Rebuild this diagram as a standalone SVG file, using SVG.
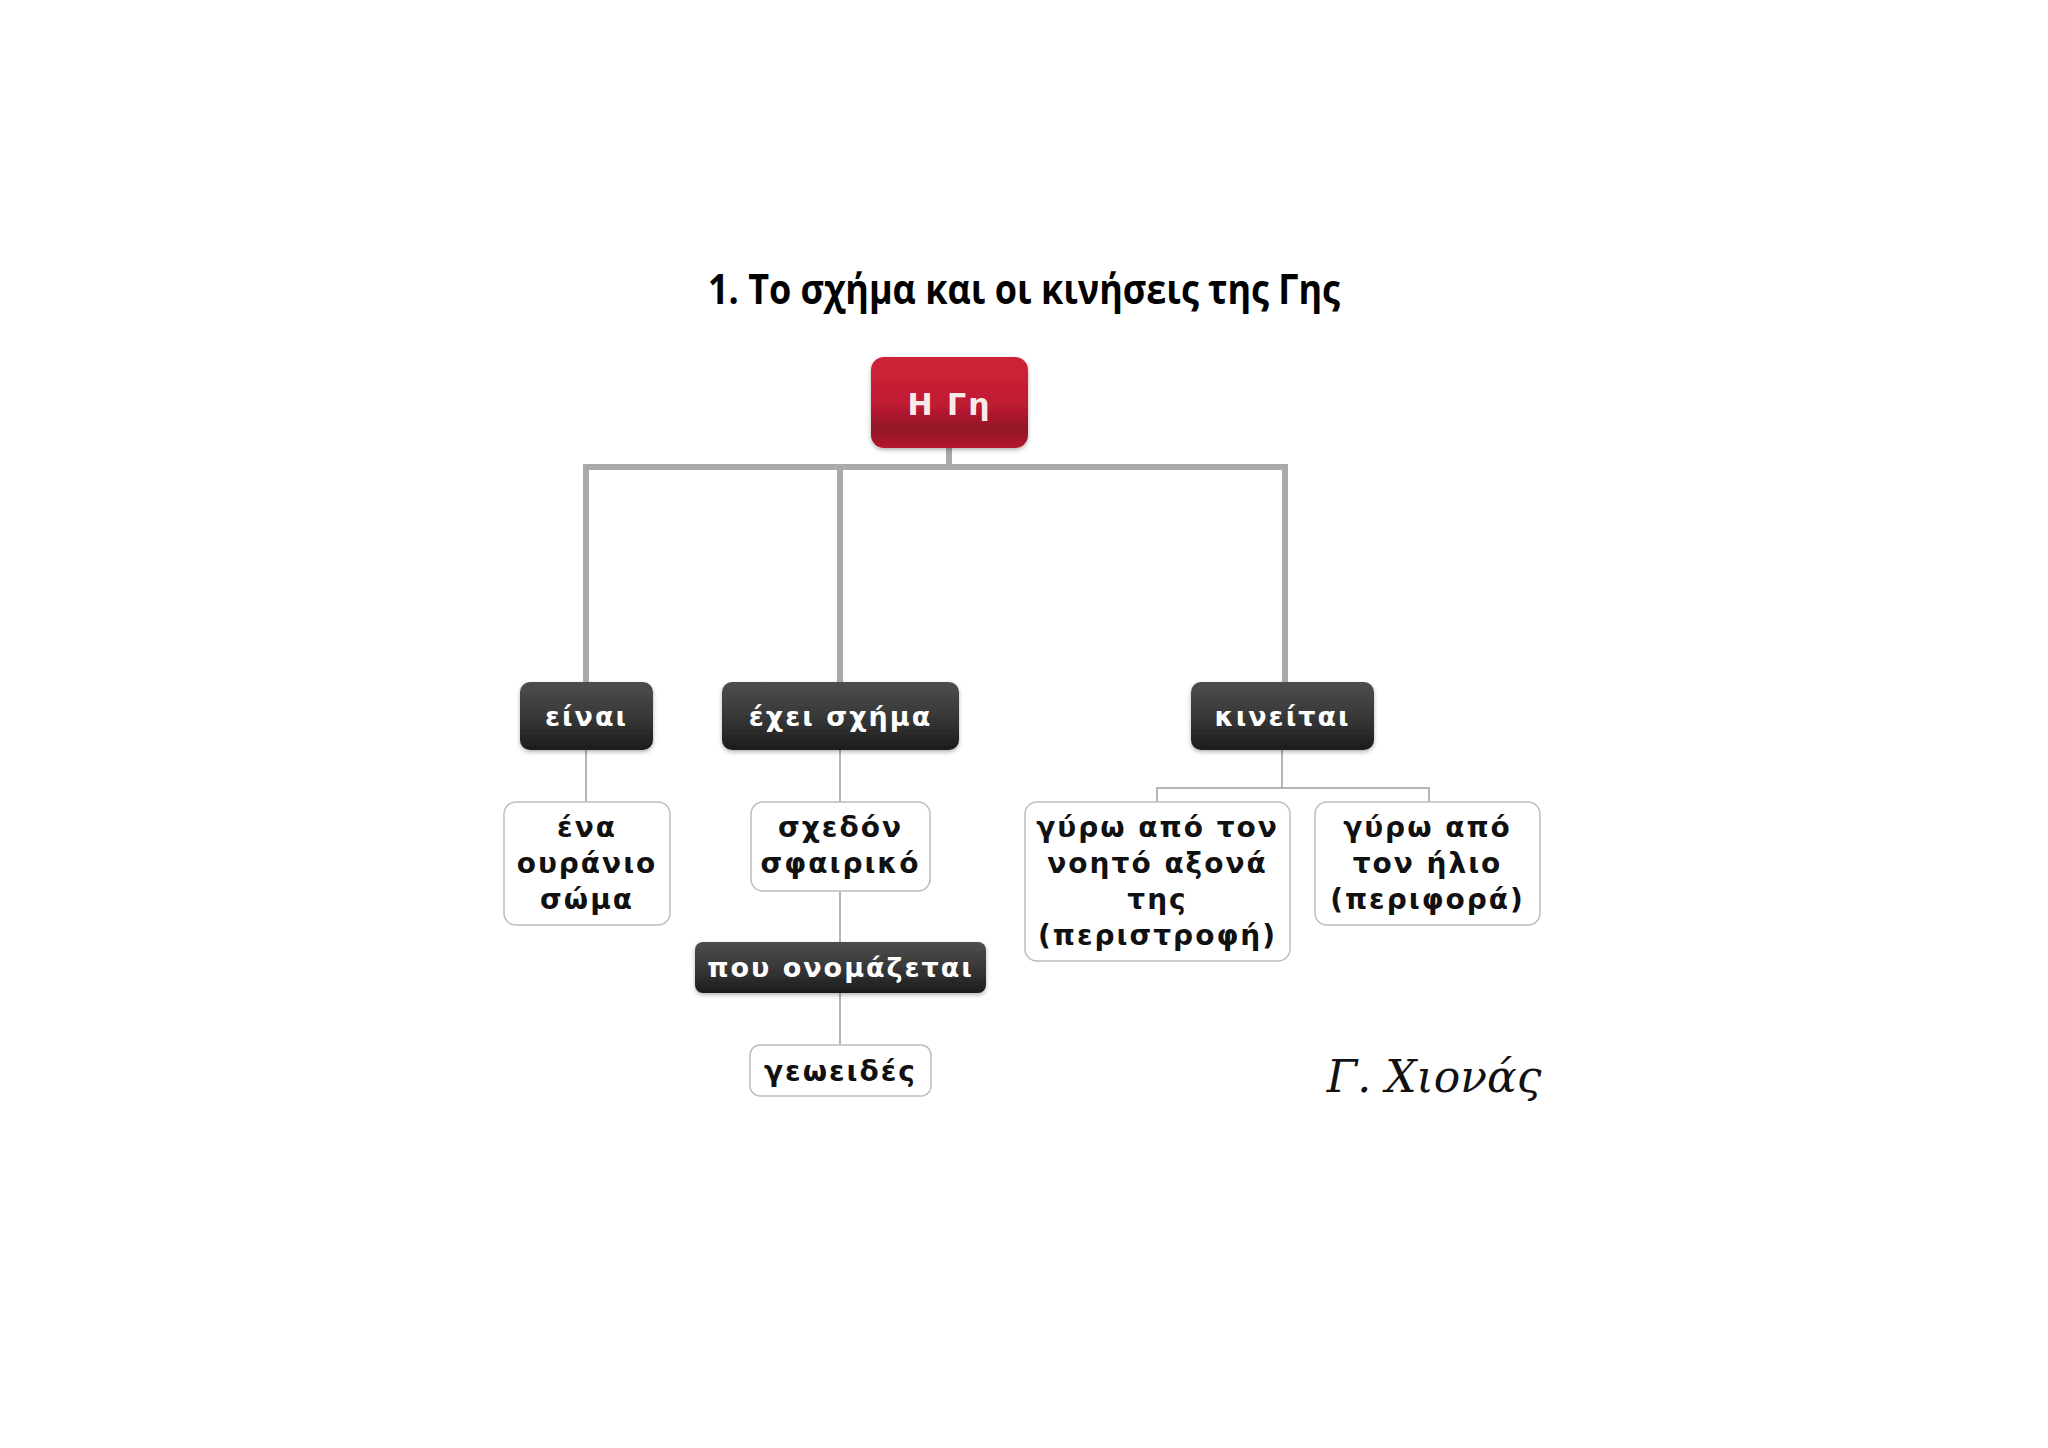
<svg xmlns="http://www.w3.org/2000/svg" width="2048" height="1448" viewBox="0 0 2048 1448">
<defs>
<linearGradient id="red" x1="0" y1="0" x2="0" y2="1">
<stop offset="0" stop-color="#d02438"/>
<stop offset="0.5" stop-color="#c01c33"/>
<stop offset="0.8" stop-color="#921226"/>
<stop offset="1" stop-color="#b41a2e"/>
</linearGradient>
<linearGradient id="dark" x1="0" y1="0" x2="0" y2="1">
<stop offset="0" stop-color="#4e4e4e"/>
<stop offset="0.5" stop-color="#383838"/>
<stop offset="1" stop-color="#1c1c1c"/>
</linearGradient>
<filter id="sh" x="-10%" y="-10%" width="120%" height="130%">
<feDropShadow dx="0" dy="2" stdDeviation="2" flood-color="#000" flood-opacity="0.3"/>
</filter>
</defs>
<style>
.title{font-family:"Open Sans","Noto Sans",sans-serif;font-weight:700;font-size:41px;fill:#000}
.dk{fill:url(#dark);filter:url(#sh)}
.wb{fill:#fff;stroke:#bdbdbd;stroke-width:1.5}
.lt{font-family:"DejaVu Sans",sans-serif;font-weight:700;font-size:27px;fill:#fff;text-anchor:middle;letter-spacing:2px}
.bt{font-family:"DejaVu Sans",sans-serif;font-weight:700;font-size:28px;fill:#111;text-anchor:middle;letter-spacing:2px}
.thick{stroke:#aaaaaa;stroke-width:6;fill:none}
.thin{stroke:#9e9e9e;stroke-width:1.5;fill:none}
</style>
<rect width="2048" height="1448" fill="#fff"/>
<text class="title" x="708" y="304" textLength="632" lengthAdjust="spacingAndGlyphs">1. Το σχήμα και οι κινήσεις της Γης</text>
<g id="connectors">
<path class="thick" d="M949 448 V467 M586 682 V467 H1285 V682 M840 467 V682"/>
<path class="thin" d="M586 750 V802 M840 750 V802 M840 891 V942 M840 993 V1045 M1282 750 V788 M1157 802 V788 H1429 V802"/>
</g>
<g id="n-gi">
<rect x="871" y="357" width="157" height="91" rx="13" fill="url(#red)" filter="url(#sh)"/>
<text class="lt" x="949.5" y="415" style="font-size:30px;fill:#fbeaea">Η Γη</text>
</g>
<g id="n-einai">
<rect class="dk" x="520" y="682" width="133" height="68" rx="10"/>
<text class="lt" x="586.5" y="726">είναι</text>
</g>
<g id="n-exei">
<rect class="dk" x="722" y="682" width="237" height="68" rx="10"/>
<text class="lt" x="840.5" y="726">έχει σχήμα</text>
</g>
<g id="n-kineitai">
<rect class="dk" x="1191" y="682" width="183" height="68" rx="10"/>
<text class="lt" x="1282.5" y="726">κινείται</text>
</g>
<g id="n-ourano">
<rect class="wb" x="504" y="802" width="166" height="123" rx="12"/>
<text class="bt" x="587" y="837">ένα</text>
<text class="bt" x="587" y="873">ουράνιο</text>
<text class="bt" x="587" y="909">σώμα</text>
</g>
<g id="n-sfairiko">
<rect class="wb" x="751" y="802" width="179" height="89" rx="12"/>
<text class="bt" x="840.5" y="837">σχεδόν</text>
<text class="bt" x="840.5" y="873">σφαιρικό</text>
</g>
<g id="n-onomazetai">
<rect class="dk" x="695" y="942" width="291" height="51" rx="8"/>
<text class="lt" x="840.5" y="977">που ονομάζεται</text>
</g>
<g id="n-geoeides">
<rect class="wb" x="750" y="1045" width="181" height="51" rx="10"/>
<text class="bt" x="840.5" y="1081">γεωειδές</text>
</g>
<g id="n-peristrofi">
<rect class="wb" x="1025" y="802" width="265" height="159" rx="12"/>
<text class="bt" x="1157.5" y="837">γύρω από τον</text>
<text class="bt" x="1157.5" y="873">νοητό αξονά</text>
<text class="bt" x="1157.5" y="909">της</text>
<text class="bt" x="1157.5" y="945">(περιστροφή)</text>
</g>
<g id="n-periforo">
<rect class="wb" x="1315" y="802" width="225" height="123" rx="12"/>
<text class="bt" x="1427.5" y="837">γύρω από</text>
<text class="bt" x="1427.5" y="873">τον ήλιο</text>
<text class="bt" x="1427.5" y="909">(περιφορά)</text>
</g>
<text x="1434" y="1092" text-anchor="middle" style="font-family:'DejaVu Serif',serif;font-style:italic;font-size:44px;fill:#111">Γ. Χιονάς</text>
</svg>
